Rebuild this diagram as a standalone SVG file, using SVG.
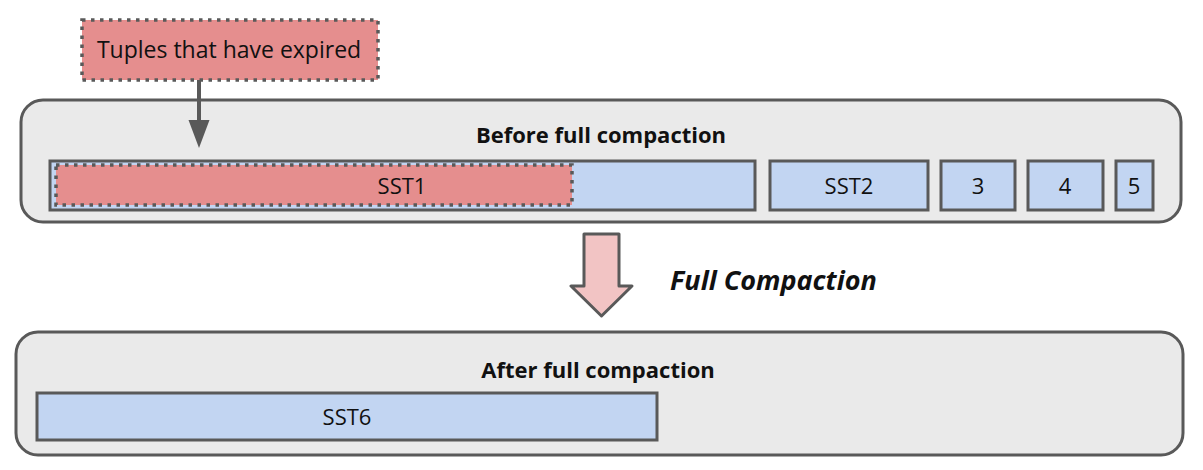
<svg xmlns="http://www.w3.org/2000/svg" width="1203" height="470" viewBox="0 0 1203 470">
<style>
.container{fill:#eaeaea;stroke:#595959;stroke-width:3}
.sst{fill:#c2d5f2;stroke:#595959;stroke-width:3}
.expired{fill:#e58e8e;stroke:#595959;stroke-width:3.5;stroke-dasharray:3.5 5.5}
.lbl{font-family:"Open Sans","Noto Sans",sans-serif;font-size:22px;fill:#111;text-anchor:middle}
.title{font-family:"Open Sans","Noto Sans",sans-serif;font-size:22px;font-weight:bold;fill:#111;text-anchor:middle}
</style>
<rect width="1203" height="470" fill="#ffffff"/>
<g id="before">
<rect class="container" x="21" y="100" width="1160" height="122" rx="22"/>
<text class="title" x="601" y="143">Before full compaction</text>
</g>
<g id="sst1">
<rect class="sst" x="50" y="161" width="705" height="49"/>
<rect class="expired" x="56" y="165" width="516" height="40"/>
<text class="lbl" x="402" y="194">SST1</text>
</g>
<g id="sst2">
<rect class="sst" x="770" y="161" width="158" height="49"/>
<text class="lbl" x="849" y="194">SST2</text>
</g>
<g id="sst3">
<rect class="sst" x="941" y="161" width="74" height="49"/>
<text class="lbl" x="978" y="194">3</text>
</g>
<g id="sst4">
<rect class="sst" x="1028" y="161" width="75" height="49"/>
<text class="lbl" x="1065" y="194">4</text>
</g>
<g id="sst5">
<rect class="sst" x="1116" y="161" width="37" height="49"/>
<text class="lbl" x="1134" y="194">5</text>
</g>
<g id="expired-label">
<rect class="expired" x="82" y="20" width="296" height="60"/>
<text class="lbl" x="229" y="58" style="font-size:23px">Tuples that have expired</text>
</g>
<g id="after">
<rect class="container" x="16" y="332" width="1167" height="123" rx="22"/>
<text class="title" x="598" y="378">After full compaction</text>
</g>
<g id="sst6">
<rect class="sst" x="37" y="393" width="620" height="47"/>
<text class="lbl" x="347" y="425">SST6</text>
</g>
<g id="connectors">
<line x1="199" y1="80" x2="199" y2="122" stroke="#595959" stroke-width="4"/>
<path d="M188.5,120 L209.5,120 L199,148 Z" fill="#595959"/>
<path d="M584,234 L619,234 L619,286 L632,286 L601.5,316 L571,286 L584,286 Z" fill="#f2c4c4" stroke="#595959" stroke-width="3" stroke-linejoin="round"/>
<text x="670" y="290" font-family="'Open Sans','Noto Sans',sans-serif" font-size="27" font-weight="bold" font-style="italic" fill="#111">Full Compaction</text>
</g>
</svg>
